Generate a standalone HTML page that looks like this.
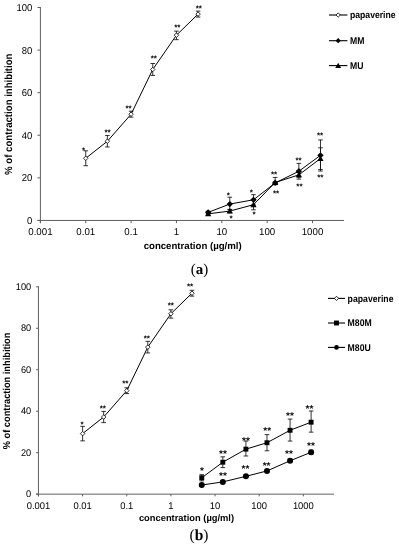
<!DOCTYPE html>
<html><head><meta charset="utf-8"><title>Figure</title>
<style>html,body{margin:0;padding:0;background:#fff}svg{display:block;text-rendering:geometricPrecision}</style></head>
<body>
<svg width="399" height="550" viewBox="0 0 399 550">
<rect width="399" height="550" fill="#fff"/>
<g stroke="#5f5f5f" stroke-width="1" fill="none">
<line x1="40.4" y1="7.00" x2="40.4" y2="223.15"/>
<line x1="37.5" y1="220.45" x2="344" y2="220.45"/>
<line x1="37.5" y1="220.45" x2="40.4" y2="220.45"/>
<line x1="37.5" y1="177.86" x2="40.4" y2="177.86"/>
<line x1="37.5" y1="135.27" x2="40.4" y2="135.27"/>
<line x1="37.5" y1="92.68" x2="40.4" y2="92.68"/>
<line x1="37.5" y1="50.09" x2="40.4" y2="50.09"/>
<line x1="37.5" y1="7.50" x2="40.4" y2="7.50"/>
<line x1="40.40" y1="220.45" x2="40.40" y2="223.15"/>
<line x1="85.75" y1="220.45" x2="85.75" y2="223.15"/>
<line x1="131.10" y1="220.45" x2="131.10" y2="223.15"/>
<line x1="176.45" y1="220.45" x2="176.45" y2="223.15"/>
<line x1="221.80" y1="220.45" x2="221.80" y2="223.15"/>
<line x1="267.15" y1="220.45" x2="267.15" y2="223.15"/>
<line x1="312.50" y1="220.45" x2="312.50" y2="223.15"/>
</g>
<g font-family="'Liberation Sans', Arial, sans-serif" font-size="10" fill="#000">
<text transform="translate(32.30,224.05) scale(0.95,1)" text-anchor="end">0</text>
<text transform="translate(32.30,181.46) scale(0.95,1)" text-anchor="end">20</text>
<text transform="translate(32.30,138.87) scale(0.95,1)" text-anchor="end">40</text>
<text transform="translate(32.30,96.28) scale(0.95,1)" text-anchor="end">60</text>
<text transform="translate(32.30,53.69) scale(0.95,1)" text-anchor="end">80</text>
<text transform="translate(32.30,11.10) scale(0.95,1)" text-anchor="end">100</text>
<text transform="translate(40.40,235.2) scale(0.97,1)" text-anchor="middle">0.001</text>
<text transform="translate(85.75,235.2) scale(0.97,1)" text-anchor="middle">0.01</text>
<text transform="translate(131.10,235.2) scale(0.97,1)" text-anchor="middle">0.1</text>
<text transform="translate(176.45,235.2) scale(0.97,1)" text-anchor="middle">1</text>
<text transform="translate(221.80,235.2) scale(0.97,1)" text-anchor="middle">10</text>
<text transform="translate(267.15,235.2) scale(0.97,1)" text-anchor="middle">100</text>
<text transform="translate(312.50,235.2) scale(0.97,1)" text-anchor="middle">1000</text>
<text x="192.7" y="248.8" text-anchor="middle" font-weight="bold" font-size="9.65">concentration (µg/ml)</text>
<text transform="translate(12.2,114.2) rotate(-90) scale(1,1.08)" text-anchor="middle" font-weight="bold" font-size="9.65">% of contraction inhibition</text>
</g>
<g stroke="#111" stroke-width="0.85" fill="none">
<path d="M85.75 150.82V165.72M83.45 150.82H88.05M83.45 165.72H88.05"/>
<path d="M107.39 135.48V146.98M105.09 135.48H109.69M105.09 146.98H109.69"/>
<path d="M131.10 111.21V117.17M128.80 111.21H133.40M128.80 117.17H133.40"/>
<path d="M152.74 63.51V75.43M150.44 63.51H155.04M150.44 75.43H155.04"/>
<path d="M176.45 31.14V39.66M174.15 31.14H178.75M174.15 39.66H178.75"/>
<path d="M198.09 11.12V17.08M195.79 11.12H200.39M195.79 17.08H200.39"/>
</g>
<path d="M85.75 158.27L107.39 141.23L131.10 114.19L152.74 69.47L176.45 35.18L198.09 14.10" fill="none" stroke="#000" stroke-width="1.0" stroke-linejoin="round"/>
<path d="M85.75 156.02L88.00 158.27L85.75 160.52L83.50 158.27Z" fill="#fff" stroke="#000" stroke-width="0.8"/>
<path d="M107.39 138.98L109.64 141.23L107.39 143.48L105.14 141.23Z" fill="#fff" stroke="#000" stroke-width="0.8"/>
<path d="M131.10 111.94L133.35 114.19L131.10 116.44L128.85 114.19Z" fill="#fff" stroke="#000" stroke-width="0.8"/>
<path d="M152.74 67.22L154.99 69.47L152.74 71.72L150.49 69.47Z" fill="#fff" stroke="#000" stroke-width="0.8"/>
<path d="M176.45 32.93L178.70 35.18L176.45 37.43L174.20 35.18Z" fill="#fff" stroke="#000" stroke-width="0.8"/>
<path d="M198.09 11.85L200.34 14.10L198.09 16.35L195.84 14.10Z" fill="#fff" stroke="#000" stroke-width="0.8"/>
<g stroke="#111" stroke-width="0.85" fill="none">
<path d="M208.15 211.29V213.42M205.85 211.29H210.45M205.85 213.42H210.45"/>
<path d="M229.79 197.24V209.59M227.49 197.24H232.09M227.49 209.59H232.09"/>
<path d="M253.50 194.68V204.90M251.20 194.68H255.80M251.20 204.90H255.80"/>
<path d="M275.14 177.43V184.67M272.84 177.43H277.44M272.84 184.67H277.44"/>
<path d="M298.85 163.38V177.22M296.55 163.38H301.15M296.55 177.22H301.15"/>
<path d="M320.49 139.95V171.05M318.19 139.95H322.79M318.19 171.05H322.79"/>
</g>
<path d="M208.15 212.36L229.79 204.05L253.50 199.79L275.14 182.97L298.85 171.26L320.49 155.29" fill="none" stroke="#000" stroke-width="1.0" stroke-linejoin="round"/>
<path d="M208.15 209.21L211.30 212.36L208.15 215.51L205.00 212.36Z" fill="#000"/>
<path d="M229.79 200.90L232.94 204.05L229.79 207.20L226.64 204.05Z" fill="#000"/>
<path d="M253.50 196.64L256.65 199.79L253.50 202.94L250.35 199.79Z" fill="#000"/>
<path d="M275.14 179.82L278.29 182.97L275.14 186.12L271.99 182.97Z" fill="#000"/>
<path d="M298.85 168.11L302.00 171.26L298.85 174.41L295.70 171.26Z" fill="#000"/>
<path d="M320.49 152.14L323.64 155.29L320.49 158.44L317.34 155.29Z" fill="#000"/>
<g stroke="#111" stroke-width="0.85" fill="none">
<path d="M208.15 212.78V214.91M205.85 212.78H210.45M205.85 214.91H210.45"/>
<path d="M229.79 209.38V212.78M227.49 209.38H232.09M227.49 212.78H232.09"/>
<path d="M253.50 200.43V209.80M251.20 200.43H255.80M251.20 209.80H255.80"/>
<path d="M275.14 181.48V183.61M272.84 181.48H277.44M272.84 183.61H277.44"/>
<path d="M298.85 170.62V179.14M296.55 170.62H301.15M296.55 179.14H301.15"/>
<path d="M320.49 147.83V169.55M318.19 147.83H322.79M318.19 169.55H322.79"/>
</g>
<path d="M208.15 213.85L229.79 211.08L253.50 204.69L275.14 182.54L298.85 174.88L320.49 158.48" fill="none" stroke="#000" stroke-width="1.0" stroke-linejoin="round"/>
<path d="M208.15 210.75L211.25 216.33L205.05 216.33Z" fill="#000"/>
<path d="M229.79 207.98L232.89 213.56L226.69 213.56Z" fill="#000"/>
<path d="M253.50 201.59L256.60 207.17L250.40 207.17Z" fill="#000"/>
<path d="M275.14 179.44L278.24 185.02L272.04 185.02Z" fill="#000"/>
<path d="M298.85 171.78L301.95 177.36L295.75 177.36Z" fill="#000"/>
<path d="M320.49 155.38L323.59 160.96L317.39 160.96Z" fill="#000"/>
<g font-family="'Liberation Sans', Arial, sans-serif" font-size="8" font-weight="bold" fill="#000" text-anchor="middle">
<text x="83.5" y="152.5">*</text>
<text x="107.5" y="134.5">**</text>
<text x="128.5" y="110.5">**</text>
<text x="153.8" y="61.2">**</text>
<text x="177.3" y="29.8">**</text>
<text x="198.8" y="10.6">**</text>
<text x="228.3" y="198.2">*</text>
<text x="231" y="220.5">*</text>
<text x="251.4" y="194.5">*</text>
<text x="254" y="217.1">*</text>
<text x="274" y="176.5">**</text>
<text x="276" y="195.7">**</text>
<text x="298.6" y="162.7">**</text>
<text x="299.4" y="188.7">**</text>
<text x="320" y="138.3">**</text>
<text x="320.3" y="179.7">**</text>
</g>
<g font-family="'Liberation Sans', Arial, sans-serif" font-size="8.65" font-weight="bold" fill="#000">
<line x1="329" y1="15" x2="347.4" y2="15" stroke="#000" stroke-width="1.1"/>
<path d="M338.20 12.86L340.34 15.00L338.20 17.14L336.06 15.00Z" fill="#fff" stroke="#000" stroke-width="0.8"/>
<text transform="translate(350,18.16) scale(1,1.12)">papaverine</text>
<line x1="329" y1="40.7" x2="347.4" y2="40.7" stroke="#000" stroke-width="1.1"/>
<path d="M338.20 38.12L340.78 40.70L338.20 43.28L335.62 40.70Z" fill="#000"/>
<text transform="translate(350,43.86) scale(1,1.12)">MM</text>
<line x1="329" y1="65.6" x2="347.4" y2="65.6" stroke="#000" stroke-width="1.1"/>
<path d="M338.20 62.65L341.14 67.96L335.25 67.96Z" fill="#000"/>
<text transform="translate(350,68.76) scale(1,1.12)">MU</text>
</g>
<text x="199.4" y="273.8" text-anchor="middle" font-family="'Liberation Serif', serif" font-size="15" fill="#000">(<tspan font-weight="bold">a</tspan>)</text>
<g stroke="#5f5f5f" stroke-width="1" fill="none">
<line x1="38.45" y1="286.30" x2="38.45" y2="496.35"/>
<line x1="36.050000000000004" y1="494.15" x2="334" y2="494.15"/>
<line x1="36.050000000000004" y1="494.15" x2="38.45" y2="494.15"/>
<line x1="36.050000000000004" y1="452.68" x2="38.45" y2="452.68"/>
<line x1="36.050000000000004" y1="411.21" x2="38.45" y2="411.21"/>
<line x1="36.050000000000004" y1="369.74" x2="38.45" y2="369.74"/>
<line x1="36.050000000000004" y1="328.27" x2="38.45" y2="328.27"/>
<line x1="36.050000000000004" y1="286.80" x2="38.45" y2="286.80"/>
<line x1="38.45" y1="494.15" x2="38.45" y2="496.35"/>
<line x1="82.60" y1="494.15" x2="82.60" y2="496.35"/>
<line x1="126.75" y1="494.15" x2="126.75" y2="496.35"/>
<line x1="170.90" y1="494.15" x2="170.90" y2="496.35"/>
<line x1="215.05" y1="494.15" x2="215.05" y2="496.35"/>
<line x1="259.20" y1="494.15" x2="259.20" y2="496.35"/>
<line x1="303.35" y1="494.15" x2="303.35" y2="496.35"/>
</g>
<g font-family="'Liberation Sans', Arial, sans-serif" font-size="9.7" fill="#000">
<text transform="translate(31.15,497.35) scale(0.95,1)" text-anchor="end">0</text>
<text transform="translate(31.15,455.88) scale(0.95,1)" text-anchor="end">20</text>
<text transform="translate(31.15,414.41) scale(0.95,1)" text-anchor="end">40</text>
<text transform="translate(31.15,372.94) scale(0.95,1)" text-anchor="end">60</text>
<text transform="translate(31.15,331.47) scale(0.95,1)" text-anchor="end">80</text>
<text transform="translate(31.15,290.00) scale(0.95,1)" text-anchor="end">100</text>
<text transform="translate(38.45,508.6) scale(0.97,1)" text-anchor="middle">0.001</text>
<text transform="translate(82.60,508.6) scale(0.97,1)" text-anchor="middle">0.01</text>
<text transform="translate(126.75,508.6) scale(0.97,1)" text-anchor="middle">0.1</text>
<text transform="translate(170.90,508.6) scale(0.97,1)" text-anchor="middle">1</text>
<text transform="translate(215.05,508.6) scale(0.97,1)" text-anchor="middle">10</text>
<text transform="translate(259.20,508.6) scale(0.97,1)" text-anchor="middle">100</text>
<text transform="translate(303.35,508.6) scale(0.97,1)" text-anchor="middle">1000</text>
<text x="186.5" y="521" text-anchor="middle" font-weight="bold" font-size="9.35">concentration (µg/ml)</text>
<text transform="translate(10.4,390.9) rotate(-90) scale(1,1.08)" text-anchor="middle" font-weight="bold" font-size="9.25">% of contraction inhibition</text>
</g>
<g stroke="#111" stroke-width="0.85" fill="none">
<path d="M82.60 426.35V440.86M80.30 426.35H84.90M80.30 440.86H84.90"/>
<path d="M103.66 411.42V422.61M101.36 411.42H105.96M101.36 422.61H105.96"/>
<path d="M126.75 387.78V393.59M124.45 387.78H129.05M124.45 393.59H129.05"/>
<path d="M147.81 341.33V352.94M145.51 341.33H150.11M145.51 352.94H150.11"/>
<path d="M170.90 309.82V318.11M168.60 309.82H173.20M168.60 318.11H173.20"/>
<path d="M191.96 290.32V296.13M189.66 290.32H194.26M189.66 296.13H194.26"/>
</g>
<path d="M82.60 433.60L103.66 417.02L126.75 390.68L147.81 347.14L170.90 313.76L191.96 293.23" fill="none" stroke="#000" stroke-width="1.0" stroke-linejoin="round"/>
<path d="M82.60 431.35L84.85 433.60L82.60 435.85L80.35 433.60Z" fill="#fff" stroke="#000" stroke-width="0.8"/>
<path d="M103.66 414.77L105.91 417.02L103.66 419.27L101.41 417.02Z" fill="#fff" stroke="#000" stroke-width="0.8"/>
<path d="M126.75 388.43L129.00 390.68L126.75 392.93L124.50 390.68Z" fill="#fff" stroke="#000" stroke-width="0.8"/>
<path d="M147.81 344.89L150.06 347.14L147.81 349.39L145.56 347.14Z" fill="#fff" stroke="#000" stroke-width="0.8"/>
<path d="M170.90 311.51L173.15 313.76L170.90 316.01L168.65 313.76Z" fill="#fff" stroke="#000" stroke-width="0.8"/>
<path d="M191.96 290.98L194.21 293.23L191.96 295.48L189.71 293.23Z" fill="#fff" stroke="#000" stroke-width="0.8"/>
<g stroke="#111" stroke-width="0.85" fill="none">
<path d="M201.76 474.66V480.88M199.46 474.66H204.06M199.46 480.88H204.06"/>
<path d="M222.82 456.83V467.61M220.52 456.83H225.12M220.52 467.61H225.12"/>
<path d="M245.91 441.07V456.00M243.61 441.07H248.21M243.61 456.00H248.21"/>
<path d="M266.97 434.64V450.81M264.67 434.64H269.27M264.67 450.81H269.27"/>
<path d="M290.06 419.09V441.07M287.76 419.09H292.36M287.76 441.07H292.36"/>
<path d="M311.12 411.00V432.15M308.82 411.00H313.42M308.82 432.15H313.42"/>
</g>
<path d="M201.76 477.77L222.82 462.22L245.91 449.16L266.97 442.73L290.06 430.29L311.12 422.20" fill="none" stroke="#000" stroke-width="1.0" stroke-linejoin="round"/>
<rect x="199.31" y="475.32" width="4.90" height="4.90" fill="#000"/>
<rect x="220.37" y="459.77" width="4.90" height="4.90" fill="#000"/>
<rect x="243.46" y="446.71" width="4.90" height="4.90" fill="#000"/>
<rect x="264.52" y="440.28" width="4.90" height="4.90" fill="#000"/>
<rect x="287.61" y="427.84" width="4.90" height="4.90" fill="#000"/>
<rect x="308.67" y="419.75" width="4.90" height="4.90" fill="#000"/>
<g stroke="#111" stroke-width="0.85" fill="none">
<path d="M201.76 483.99V486.06M199.46 483.99H204.06M199.46 486.06H204.06"/>
<path d="M222.82 480.88V482.95M220.52 480.88H225.12M220.52 482.95H225.12"/>
<path d="M245.91 475.28V477.35M243.61 475.28H248.21M243.61 477.35H248.21"/>
<path d="M266.97 469.89V471.96M264.67 469.89H269.27M264.67 471.96H269.27"/>
<path d="M290.06 459.11V462.43M287.76 459.11H292.36M287.76 462.43H292.36"/>
<path d="M311.12 450.19V454.34M308.82 450.19H313.42M308.82 454.34H313.42"/>
</g>
<path d="M201.76 485.03L222.82 481.92L245.91 476.32L266.97 470.93L290.06 460.77L311.12 452.27" fill="none" stroke="#000" stroke-width="1.0" stroke-linejoin="round"/>
<circle cx="201.76" cy="485.03" r="3.00" fill="#000"/>
<circle cx="222.82" cy="481.92" r="3.00" fill="#000"/>
<circle cx="245.91" cy="476.32" r="3.00" fill="#000"/>
<circle cx="266.97" cy="470.93" r="3.00" fill="#000"/>
<circle cx="290.06" cy="460.77" r="3.00" fill="#000"/>
<circle cx="311.12" cy="452.27" r="3.00" fill="#000"/>
<g font-family="'Liberation Sans', Arial, sans-serif" font-size="8" font-weight="bold" fill="#000" text-anchor="middle">
<text x="82" y="427.3">*</text>
<text x="102.8" y="411.3">**</text>
<text x="125.3" y="386.1">**</text>
<text x="146.75" y="340.6">**</text>
<text x="170.75" y="307.9">**</text>
<text x="190" y="288.9">**</text>
<text x="202" y="474.30" font-size="10">*</text>
<text x="223" y="457.20" font-size="10">**</text>
<text x="246" y="443.60" font-size="10">**</text>
<text x="267.2" y="433.80" font-size="10">**</text>
<text x="290" y="419.10" font-size="10">**</text>
<text x="309.5" y="412.20" font-size="10">**</text>
<text x="223" y="479.40" font-size="10">**</text>
<text x="245.4" y="472.40" font-size="10">**</text>
<text x="266.6" y="468.90" font-size="10">**</text>
<text x="289" y="456.90" font-size="10">**</text>
<text x="311" y="448.50" font-size="10">**</text>
</g>
<g font-family="'Liberation Sans', Arial, sans-serif" font-size="8.7" font-weight="bold" fill="#000">
<line x1="328" y1="298.4" x2="345" y2="298.4" stroke="#000" stroke-width="1.1"/>
<path d="M336.50 296.26L338.64 298.40L336.50 300.54L334.36 298.40Z" fill="#fff" stroke="#000" stroke-width="0.8"/>
<text transform="translate(347.6,301.58) scale(1,1.12)">papaverine</text>
<line x1="328" y1="323" x2="345" y2="323" stroke="#000" stroke-width="1.1"/>
<rect x="334.05" y="320.55" width="4.90" height="4.90" fill="#000"/>
<text transform="translate(347.6,326.18) scale(1,1.12)">M80M</text>
<line x1="328" y1="347.4" x2="345" y2="347.4" stroke="#000" stroke-width="1.1"/>
<circle cx="336.50" cy="347.40" r="2.34" fill="#000"/>
<text transform="translate(347.6,350.58) scale(1,1.12)">M80U</text>
</g>
<text x="199" y="540.3" text-anchor="middle" font-family="'Liberation Serif', serif" font-size="15.5" fill="#000">(<tspan font-weight="bold">b</tspan>)</text>
</svg>
</body></html>
